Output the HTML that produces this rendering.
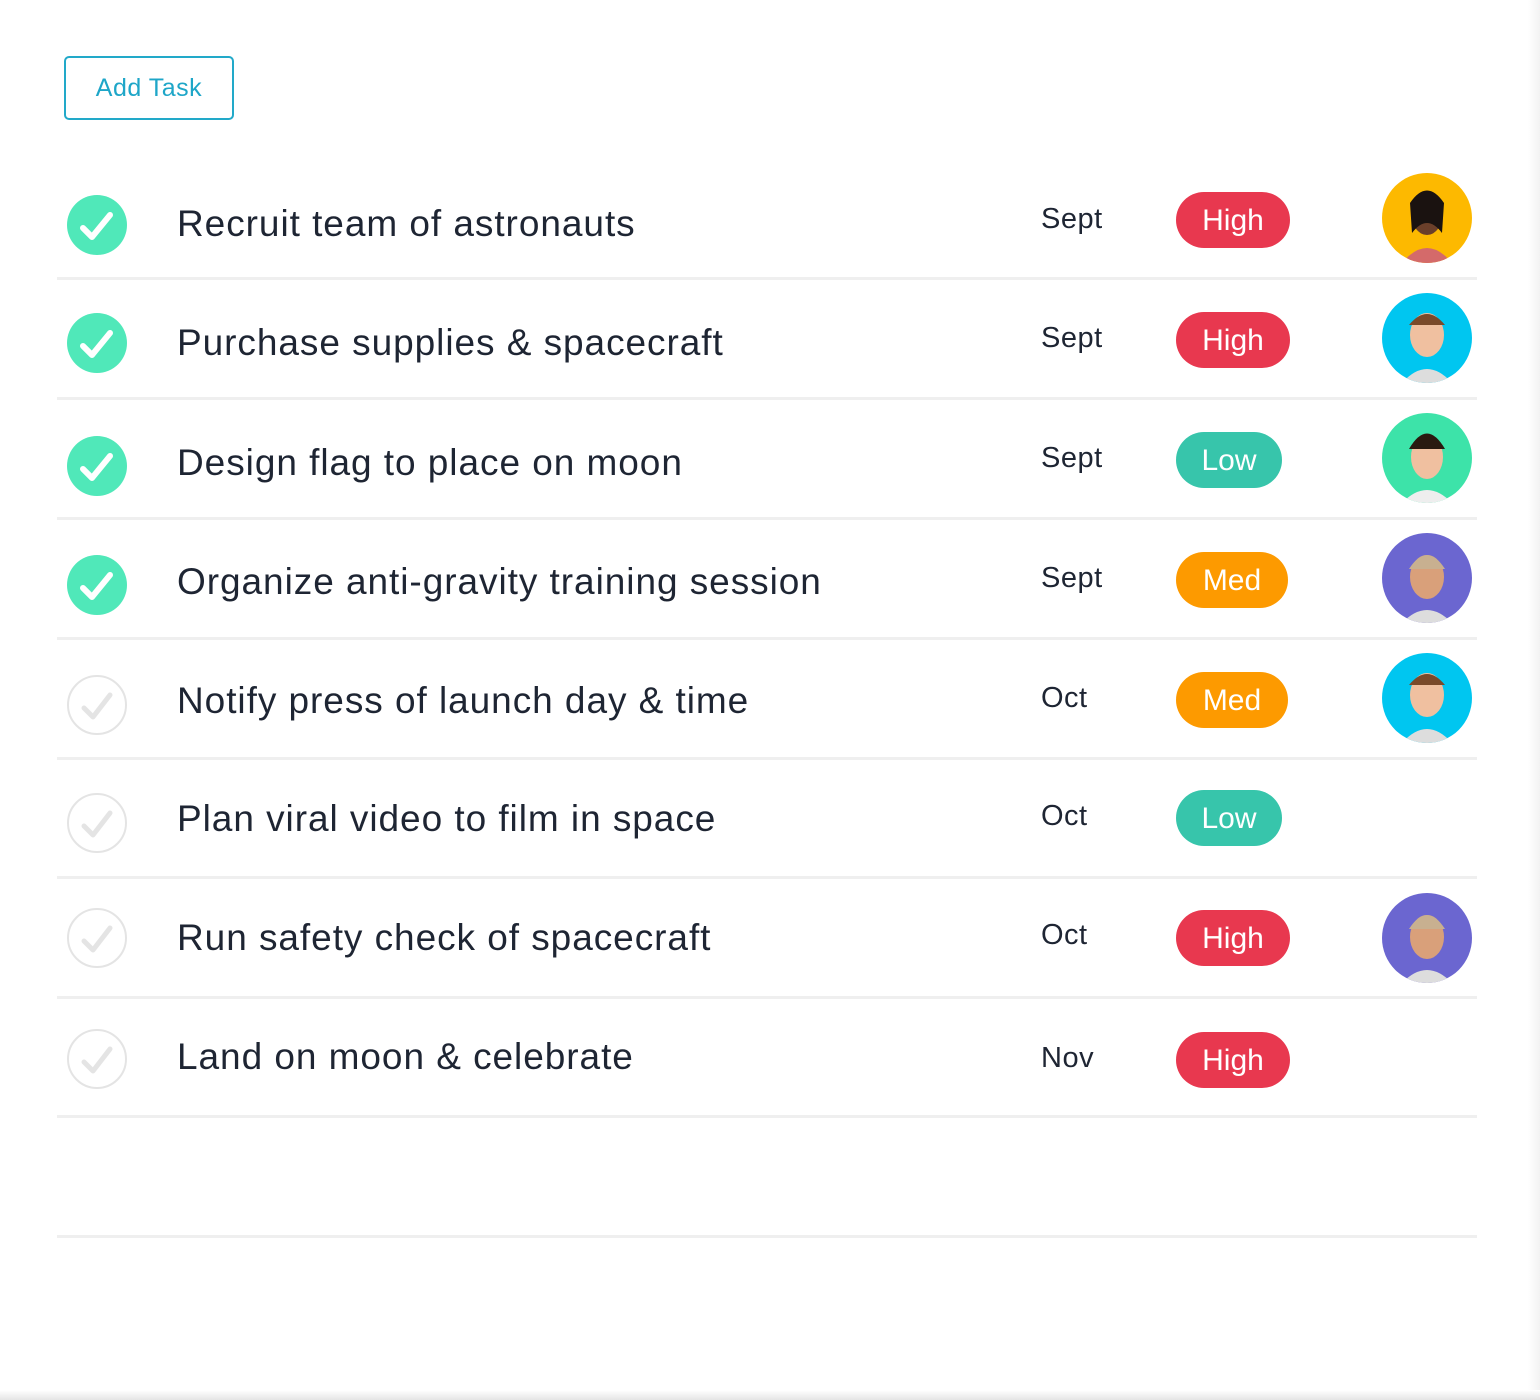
<!DOCTYPE html>
<html><head><style>
body{margin:0;width:1540px;height:1400px;background:#fff;position:relative;overflow:hidden;font-family:"Liberation Sans",sans-serif;}
.shadowb{position:absolute;left:0;top:1390px;width:1540px;height:10px;background:linear-gradient(#fff,#e4e4e4);}
.shadowr{position:absolute;left:1528px;top:0;width:12px;height:1400px;background:linear-gradient(90deg,#fff,#f2f2f2);}
.btn{position:absolute;left:64px;top:56px;width:166px;height:60px;border:2px solid #22a9c9;border-radius:5px;color:#1ea6c8;font-size:25px;line-height:60px;text-align:center;letter-spacing:0.5px;}
.row{position:absolute;left:57px;width:1420px;height:120px;}
.sep{position:absolute;left:57px;width:1420px;height:3px;background:#efefef;}
.chk{position:absolute;left:10px;width:60px;height:60px;border-radius:50%;}
.done{background:#50e8b9;}
.todo{border:2px solid #e4e4e4;width:56px;height:56px;}
.t{position:absolute;left:120px;font-size:37px;color:#1e2533;letter-spacing:0.95px;}
.d{position:absolute;left:984px;font-size:29px;color:#1e2533;letter-spacing:0.5px;}
.b{position:absolute;left:1119px;height:56px;border-radius:28px;color:#fff;font-size:30px;line-height:57px;text-align:center;}
.H{background:#e8384f;width:114px}.L{background:#37c5ab;width:106px}.M{background:#fd9a00;width:112px}
.av{position:absolute;left:1325px;width:90px;height:90px;border-radius:50%;overflow:hidden;}
</style></head><body>
<div class="shadowr"></div><div class="shadowb"></div>
<div class="btn">Add Task</div>
<div class="row" style="top:162px"><div class="chk done" style="top:33px"><svg width="60" height="60"><path d="M16 33 L25 42 L43 20" stroke="#fff" stroke-width="6" fill="none" stroke-linecap="round" stroke-linejoin="round"/></svg></div><div class="t" style="top:41px">Recruit team of astronauts</div><div class="d" style="top:41px">Sept</div><div class="b H" style="top:30px">High</div><div class="av" style="top:11px;background:#fdb900"><svg width="90" height="90"><ellipse cx="45" cy="40" rx="16" ry="22" fill="#6b3f2a"/><path d="M28 30 Q45 5 62 30 L60 60 Q45 40 30 60Z" fill="#1a1210"/><path d="M20 90 Q45 60 70 90Z" fill="#d46a6a"/></svg></div></div>
<div class="sep" style="top:277px"></div>
<div class="row" style="top:282px"><div class="chk done" style="top:31px"><svg width="60" height="60"><path d="M16 33 L25 42 L43 20" stroke="#fff" stroke-width="6" fill="none" stroke-linecap="round" stroke-linejoin="round"/></svg></div><div class="t" style="top:40px">Purchase supplies &amp; spacecraft</div><div class="d" style="top:40px">Sept</div><div class="b H" style="top:30px">High</div><div class="av" style="top:11px;background:#00c6f0"><svg width="90" height="90"><ellipse cx="45" cy="42" rx="17" ry="22" fill="#f0c0a0"/><path d="M27 32 Q45 10 63 32Z" fill="#7a4a2a"/><path d="M20 90 Q45 62 70 90Z" fill="#ddd"/></svg></div></div>
<div class="sep" style="top:397px"></div>
<div class="row" style="top:402px"><div class="chk done" style="top:34px"><svg width="60" height="60"><path d="M16 33 L25 42 L43 20" stroke="#fff" stroke-width="6" fill="none" stroke-linecap="round" stroke-linejoin="round"/></svg></div><div class="t" style="top:40px">Design flag to place on moon</div><div class="d" style="top:40px">Sept</div><div class="b L" style="top:30px">Low</div><div class="av" style="top:11px;background:#3de3a9"><svg width="90" height="90"><ellipse cx="45" cy="44" rx="16" ry="22" fill="#f0c0a0"/><path d="M27 36 Q45 5 63 36Z" fill="#2a1a10"/><path d="M20 90 Q45 64 70 90Z" fill="#eee"/></svg></div></div>
<div class="sep" style="top:517px"></div>
<div class="row" style="top:522px"><div class="chk done" style="top:33px"><svg width="60" height="60"><path d="M16 33 L25 42 L43 20" stroke="#fff" stroke-width="6" fill="none" stroke-linecap="round" stroke-linejoin="round"/></svg></div><div class="t" style="top:39px">Organize anti-gravity training session</div><div class="d" style="top:40px">Sept</div><div class="b M" style="top:30px">Med</div><div class="av" style="top:11px;background:#6b66d0"><svg width="90" height="90"><ellipse cx="45" cy="44" rx="17" ry="22" fill="#d9a07a"/><path d="M27 36 Q45 8 63 36Z" fill="#c8b090"/><path d="M20 90 Q45 64 70 90Z" fill="#ddd"/></svg></div></div>
<div class="sep" style="top:637px"></div>
<div class="row" style="top:642px"><div class="chk todo" style="top:33px"><svg width="56" height="56"><path d="M15 31 L24 40 L41 18" stroke="#e4e4e4" stroke-width="5" fill="none" stroke-linecap="round" stroke-linejoin="round"/></svg></div><div class="t" style="top:38px">Notify press of launch day &amp; time</div><div class="d" style="top:40px">Oct</div><div class="b M" style="top:30px">Med</div><div class="av" style="top:11px;background:#00c6f0"><svg width="90" height="90"><ellipse cx="45" cy="42" rx="17" ry="22" fill="#f0c0a0"/><path d="M27 32 Q45 10 63 32Z" fill="#7a4a2a"/><path d="M20 90 Q45 62 70 90Z" fill="#ddd"/></svg></div></div>
<div class="sep" style="top:757px"></div>
<div class="row" style="top:762px"><div class="chk todo" style="top:31px"><svg width="56" height="56"><path d="M15 31 L24 40 L41 18" stroke="#e4e4e4" stroke-width="5" fill="none" stroke-linecap="round" stroke-linejoin="round"/></svg></div><div class="t" style="top:36px">Plan viral video to film in space</div><div class="d" style="top:38px">Oct</div><div class="b L" style="top:28px">Low</div></div>
<div class="sep" style="top:876px"></div>
<div class="row" style="top:881px"><div class="chk todo" style="top:27px"><svg width="56" height="56"><path d="M15 31 L24 40 L41 18" stroke="#e4e4e4" stroke-width="5" fill="none" stroke-linecap="round" stroke-linejoin="round"/></svg></div><div class="t" style="top:36px">Run safety check of spacecraft</div><div class="d" style="top:38px">Oct</div><div class="b H" style="top:29px">High</div><div class="av" style="top:12px;background:#6b66d0"><svg width="90" height="90"><ellipse cx="45" cy="44" rx="17" ry="22" fill="#d9a07a"/><path d="M27 36 Q45 8 63 36Z" fill="#c8b090"/><path d="M20 90 Q45 64 70 90Z" fill="#ddd"/></svg></div></div>
<div class="sep" style="top:996px"></div>
<div class="row" style="top:1001px"><div class="chk todo" style="top:28px"><svg width="56" height="56"><path d="M15 31 L24 40 L41 18" stroke="#e4e4e4" stroke-width="5" fill="none" stroke-linecap="round" stroke-linejoin="round"/></svg></div><div class="t" style="top:35px">Land on moon &amp; celebrate</div><div class="d" style="top:41px">Nov</div><div class="b H" style="top:31px">High</div></div>
<div class="sep" style="top:1115px"></div>
<div class="sep" style="top:1235px"></div>
</body></html>
